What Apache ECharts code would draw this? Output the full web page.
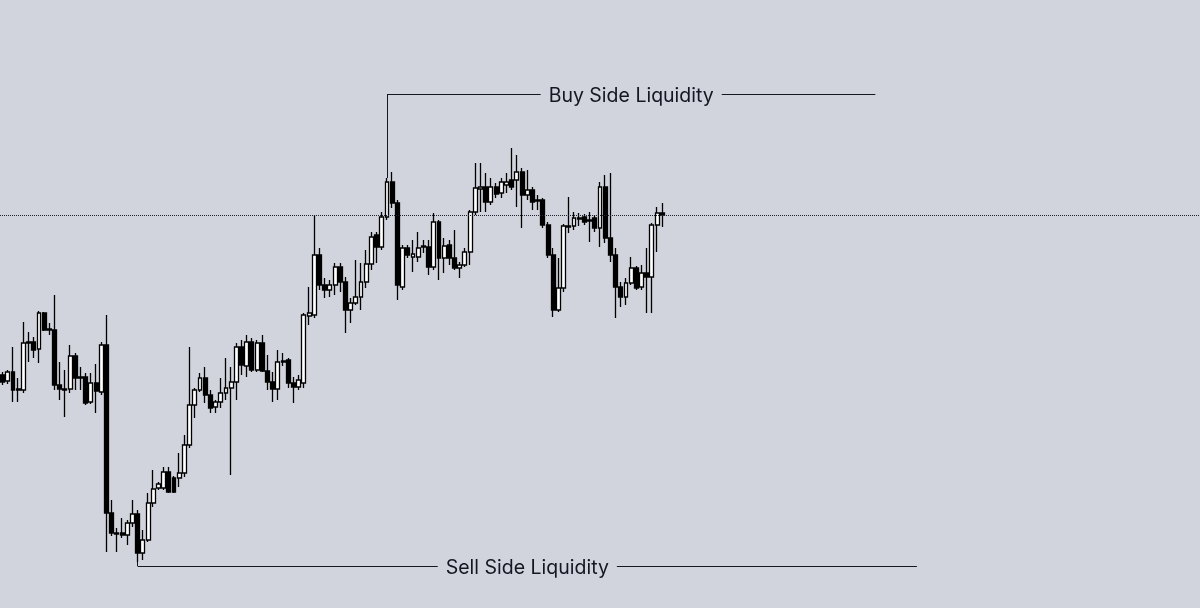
<!DOCTYPE html>
<html>
<head>
<meta charset="utf-8">
<script src="https://cdn.jsdelivr.net/npm/echarts@6/dist/echarts.min.js"></script>
<style>
html,body{margin:0;padding:0;background:#d1d4dc;}
#chart{width:1200px;height:608px;}
</style>
</head>
<body>
<div id="chart"></div>
<script>
// Candle values (price units), one entry per bar, left to right
const openVals = [233,227,236,219,218,265,266,259,295,278,278,223,219,219,252,230,231,206,225,216,263,95,75,75,73,
85,94,55,68,105,120,120,136,130,130,135,163,203,218,230,213,201,206,215,220,226,261,242,266,238,265,
237,226,219,246,248,225,221,225,292,293,353,323,318,323,341,326,298,305,311,326,344,373,361,391,426,405,
321,360,351,351,361,361,341,386,350,363,350,340,343,356,396,419,421,406,421,415,423,428,428,436,413,418,
408,408,383,353,298,320,381,382,390,391,388,390,380,421,370,353,321,311,325,340,321,335,331,383,395];
const closeVals = [226,236,218,218,265,266,258,295,278,279,223,219,218,252,230,231,205,225,217,263,95,75,74,73,85,
94,55,68,105,119,124,136,116,116,135,163,203,218,230,213,200,206,215,220,226,261,243,266,238,265,237,
226,219,246,247,225,221,228,293,295,353,323,318,323,341,326,298,305,311,326,344,371,361,391,426,405,323,
360,353,354,360,362,341,386,350,362,350,340,343,356,396,420,421,406,421,414,426,426,421,436,413,418,406,
407,383,353,298,320,382,382,390,389,386,387,380,421,370,353,321,311,325,340,320,335,331,383,395,393];
const lowVals = [223,224,206,206,215,246,250,245,277,273,218,208,191,215,218,218,203,204,195,213,56,72,56,70,63,
81,46,48,66,101,118,118,115,115,121,131,160,190,216,205,195,195,200,208,133,208,233,231,236,236,236,
218,206,208,242,220,205,218,220,283,290,318,310,311,313,316,275,285,303,298,320,338,345,358,388,400,308,
318,350,336,346,355,333,338,328,335,343,338,330,341,343,393,396,396,403,410,410,415,418,401,380,408,398,
398,380,350,291,296,316,375,378,382,383,366,376,361,365,346,290,301,303,323,318,318,295,295,356,381];
const highVals = [236,238,261,230,286,276,271,297,296,285,313,246,238,263,255,241,235,235,244,266,293,108,80,90,88,
108,98,78,115,138,126,141,141,132,155,173,261,220,235,241,218,208,230,250,241,265,268,273,270,268,273,
253,236,258,255,250,231,233,295,321,393,360,330,328,345,345,331,310,348,345,358,376,376,396,430,436,408,
363,363,368,376,368,368,395,388,370,368,378,346,360,398,445,445,435,430,425,430,435,460,453,440,438,421,
413,410,386,360,350,384,411,396,395,394,396,393,426,433,435,360,326,330,351,342,343,360,385,401,405];

// Reference levels
const dottedLevel = 393;
const buySideLevel = 514;
const sellSideLevel = 42;
const buyAnchorBar = 74;
const buyLineEndBar = 168;
const sellAnchorBar = 26;
const sellLineEndBar = 176;
const slotCount = 231;

const slots = [];
for (let i = 0; i < slotCount; i++) slots.push(String(i));
const candles = openVals.map((o, i) => [o, closeVals[i], lowVals[i], highVals[i]]);

const bg = '#d1d4dc';
const ink = '#131722';
const labelStyle = {
  show: true, position: 'middle', color: ink, fontSize: 19.5, offset: [0, 19],
  fontFamily: 'Inter, "Noto Sans", sans-serif', backgroundColor: bg, padding: [2, 8]
};
const solid = { type: 'solid', color: ink, width: 1 };

const chart = echarts.init(document.getElementById('chart'), null, { renderer: 'canvas' });
chart.setOption({
  backgroundColor: bg,
  animation: false,
  grid: { left: 0, right: 0, top: 0, bottom: 0 },
  xAxis: { type: 'category', data: slots, show: false, boundaryGap: true },
  yAxis: { type: 'value', min: 0, max: 608, show: false, splitLine: { show: false } },
  series: [{
    type: 'candlestick',
    data: candles,
    barWidth: 4.4,
    itemStyle: { color: '#ffffff', color0: '#000000', borderColor: '#000000', borderColor0: '#000000', borderWidth: 1.3 },
    markLine: {
      silent: true,
      symbol: 'none',
      animation: false,
      label: { show: false },
      data: [
        { yAxis: dottedLevel, lineStyle: { type: 'dotted', color: '#1e222d', width: 1 }, label: { show: false } },
        [{ coord: [buyAnchorBar + 0.2, highVals[buyAnchorBar]], lineStyle: solid }, { coord: [buyAnchorBar + 0.2, buySideLevel] }],
        [{ coord: [buyAnchorBar + 0.2, buySideLevel], lineStyle: solid, label: Object.assign({ formatter: 'Buy Side Liquidity' }, labelStyle) },
         { coord: [buyLineEndBar, buySideLevel] }],
        [{ coord: [sellAnchorBar, lowVals[sellAnchorBar]], lineStyle: solid }, { coord: [sellAnchorBar, sellSideLevel] }],
        [{ coord: [sellAnchorBar, sellSideLevel], lineStyle: solid, label: Object.assign({ formatter: 'Sell Side Liquidity' }, labelStyle) },
         { coord: [sellLineEndBar, sellSideLevel] }]
      ]
    }
  }]
});
</script>
</body>
</html>
